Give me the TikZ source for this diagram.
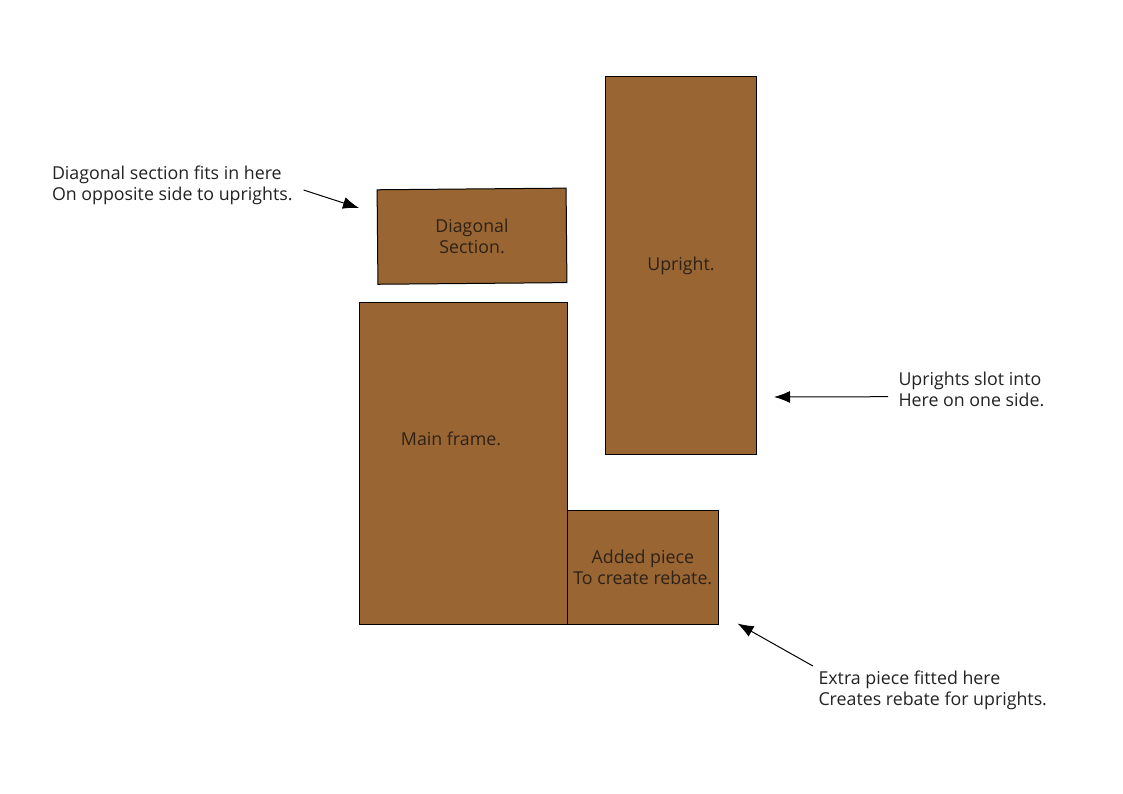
\documentclass[tikz,border=0pt]{standalone}
\usepackage{fontspec}
\setmainfont{Open Sans}[Scale=1.0]
\usetikzlibrary{arrows.meta, positioning}
\definecolor{woodbrown}{HTML}{996633}
\definecolor{notegrey}{HTML}{222222}
\definecolor{woodtext}{HTML}{2E2116}

\begin{document}
\begin{tikzpicture}[x=1pt, y=-1pt, line width=1pt,
    piece/.style = {draw, fill=woodbrown, text=woodtext, align=center, inner sep=0pt,
        font=\fontsize{17.8}{21}\selectfont},
    plain/.style = {text=woodtext, align=center, inner sep=0pt,
        font=\fontsize{17.8}{21}\selectfont},
    note/.style = {text=notegrey, align=left, anchor=west, inner sep=0pt,
        font=\fontsize{17.8}{21}\selectfont},
    pointer/.style = {-{Latex[length=16pt, width=12pt]}}]
    \useasboundingbox (0,0) rectangle (1123,794);

    \node[piece, minimum width=151pt, minimum height=377pt] (upright) at (681,265.5) {\raisebox{-3pt}{Upright.}};
    \node[piece, minimum width=189pt, minimum height=94.5pt, rotate=0.5] (diagonal) at (472,236.2) {Diagonal\\Section.};
    \node[piece, minimum width=208pt, minimum height=321.5pt] (frame) at (463.3,463.3) {};
    \node[plain] (frametext) at (451,438.5) {Main frame.};
    \node[piece, minimum width=151pt, minimum height=113.5pt, anchor=south west] (added) [right=-1pt of frame.south east, anchor=south west] {Added piece\\To create rebate.};

    \node[note] (diagnote) at (51.5,185) {Diagonal section fits in here\\On opposite side to uprights.};
    \node[note] (slotnote) at (898,389.7) {Uprights slot into\\Here on one side.};
    \node[note] (extranote) at (818,690) {Extra piece fitted here\\Creates rebate for uprights.};

    \coordinate (diaghead) at (359,208);
    \coordinate (slothead) at (774,397);
    \coordinate (extrahead) at (737.5,623.5);

    \draw[pointer] ([shift={(10.5pt,-5pt)}]diagnote.east) -- (diaghead);
    \draw[pointer] ([shift={(-10pt,-7pt)}]slotnote.west) -- (slothead);
    \draw[pointer] ([shift={(-5pt,4pt)}]extranote.north west) -- (extrahead);
\end{tikzpicture}
\end{document}
